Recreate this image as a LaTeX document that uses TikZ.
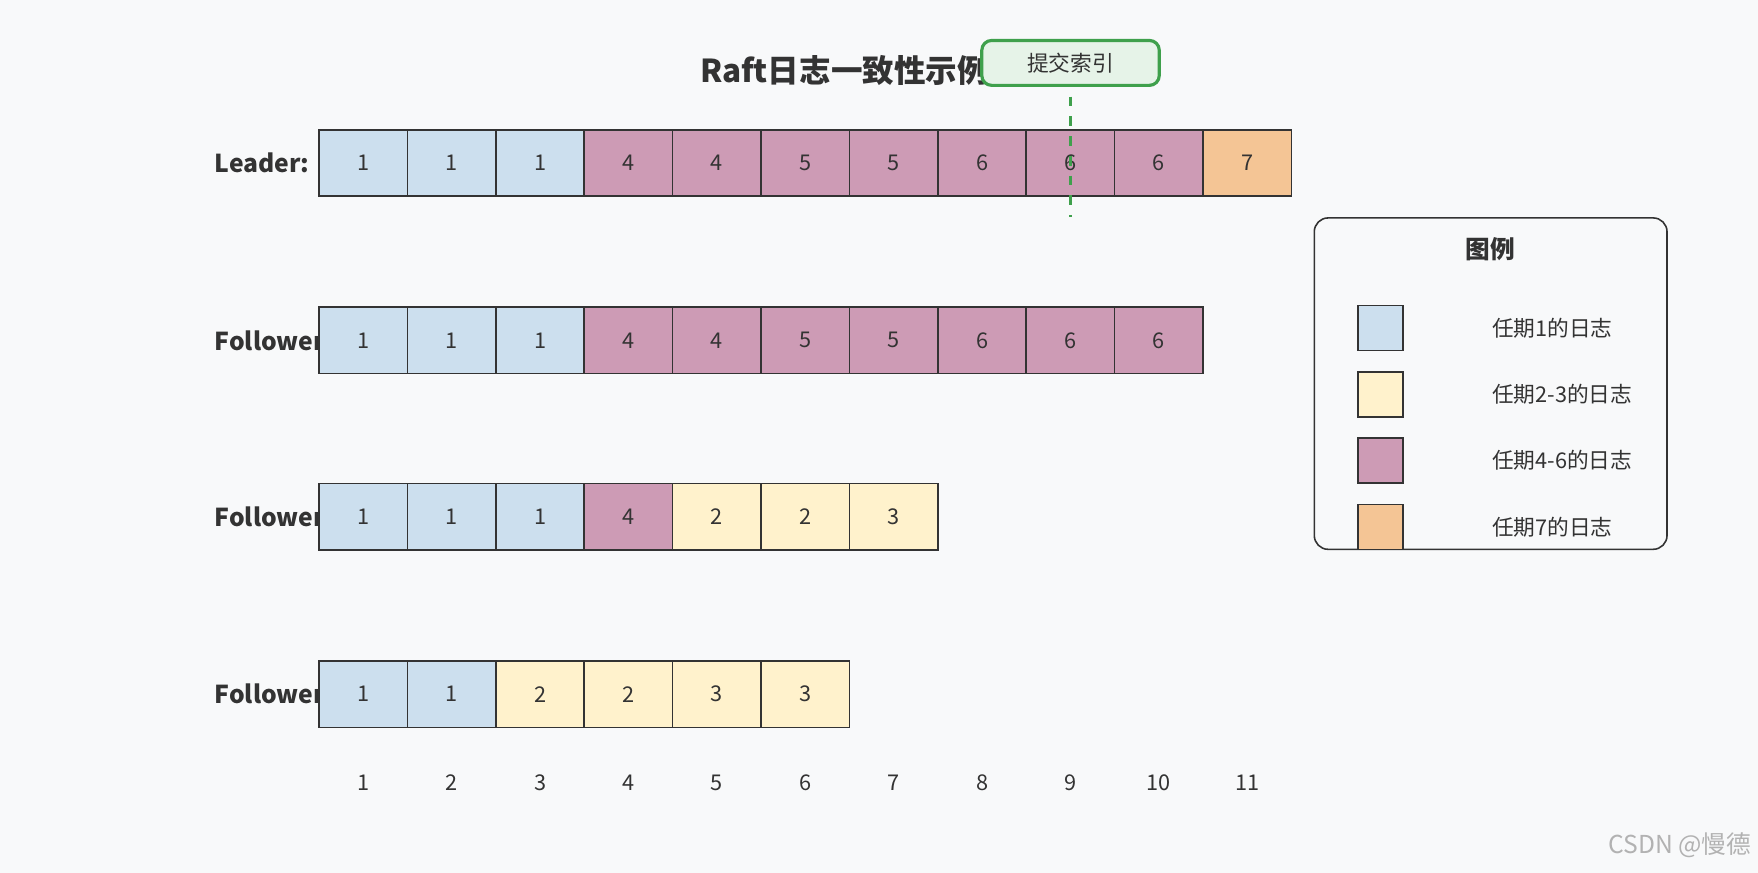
\documentclass[tikz,border=0pt]{standalone}
\usepackage{fontspec}
\setmainfont{Noto Sans CJK SC}
\definecolor{bg}{HTML}{F8F9FA}
\definecolor{cb}{HTML}{CCDFEE}
\definecolor{cy}{HTML}{FFF2CC}
\definecolor{cp}{HTML}{CD9BB5}
\definecolor{co}{HTML}{F4C595}
\definecolor{gr}{HTML}{3FA04C}
\definecolor{grf}{HTML}{E6F3E8}
\definecolor{tx}{HTML}{333333}
\begin{document}
\begin{tikzpicture}[x=0.02cm,y=-0.02cm,
  cell/.style={draw=tx,line width=0.8pt,minimum width=78.7*0.02cm,minimum height=59*0.02cm,inner sep=0pt,font=\fontsize{11}{13}\selectfont,text=tx},
  rowlab/.style={anchor=west,font=\fontsize{12.5}{14}\selectfont\bfseries,text=tx},
  idx/.style={font=\fontsize{11}{13}\selectfont,text=tx},
  sw/.style={draw=tx,line width=0.8pt,minimum width=40*0.02cm,minimum height=40*0.02cm,inner sep=0pt},
  legt/.style={anchor=west,font=\fontsize{11}{13}\selectfont,text=tx}]
\fill[bg] (0,0) rectangle (1565,777);
\node[font=\fontsize{16}{18}\selectfont\bfseries,text=tx,anchor=west] (title) at (617,63) {Raft日志一致性示例};
% rows
\def\row#1#2#3{%
  \node[rowlab] (lab#1) at (185,#2) {#3};}
\row{L}{145}{Leader:}
\row{A}{303}{Follower}
\row{B}{460}{Follower}
\row{C}{618}{Follower}
\foreach \c/\t [count=\i] in {cb/1,cb/1,cb/1,cp/4,cp/4,cp/5,cp/5,cp/6,cp/6,cp/6,co/7}
  \node[cell,fill=\c] (L\i) at ({284+78.7*(\i-0.5)},145) {\t};
\foreach \c/\t [count=\i] in {cb/1,cb/1,cb/1,cp/4,cp/4,cp/5,cp/5,cp/6,cp/6,cp/6}
  \node[cell,fill=\c] (A\i) at ({284+78.7*(\i-0.5)},303) {\t};
\foreach \c/\t [count=\i] in {cb/1,cb/1,cb/1,cp/4,cy/2,cy/2,cy/3}
  \node[cell,fill=\c] (B\i) at ({284+78.7*(\i-0.5)},460) {\t};
\foreach \c/\t [count=\i] in {cb/1,cb/1,cy/2,cy/2,cy/3,cy/3}
  \node[cell,fill=\c] (C\i) at ({284+78.7*(\i-0.5)},618) {\t};
\foreach \i in {1,...,11}
  \node[idx] (n\i) at ({284+78.7*(\i-0.5)},697) {\i};
% commit index
\coordinate (dtop) at (953,86);
\coordinate (dbot) at (953,193);
\draw[gr,dashed,line width=1.6pt,dash pattern=on 5pt off 5pt] (dtop) -- (dbot);
\node[draw=gr,fill=grf,line width=1.6pt,rounded corners=5pt,minimum width=158*0.02cm,minimum height=40*0.02cm,inner sep=0pt,font=\fontsize{11}{13}\selectfont,text=tx] (commit) at (953,56) {提交索引};
% legend
\draw[tx,line width=0.8pt,rounded corners=7pt] (1170,194) rectangle (1484,489);
\node[font=\fontsize{12.5}{14}\selectfont\bfseries,text=tx] (legtitle) at (1327,222) {图例};
\foreach \c/\t/\y in {cb/任期1的日志/292,cy/任期2-3的日志/351,cp/任期4-6的日志/410,co/任期7的日志/469}{
  \node[sw,fill=\c] (s\y) at (1229,\y) {};
  \node[legt] (t\y) at (1322,\y) {\t};}
\node[font=\fontsize{12.5}{14}\selectfont,text=gray!60,anchor=east] (wm) at (1565,752) {CSDN @慢德};
\end{tikzpicture}
\end{document}
